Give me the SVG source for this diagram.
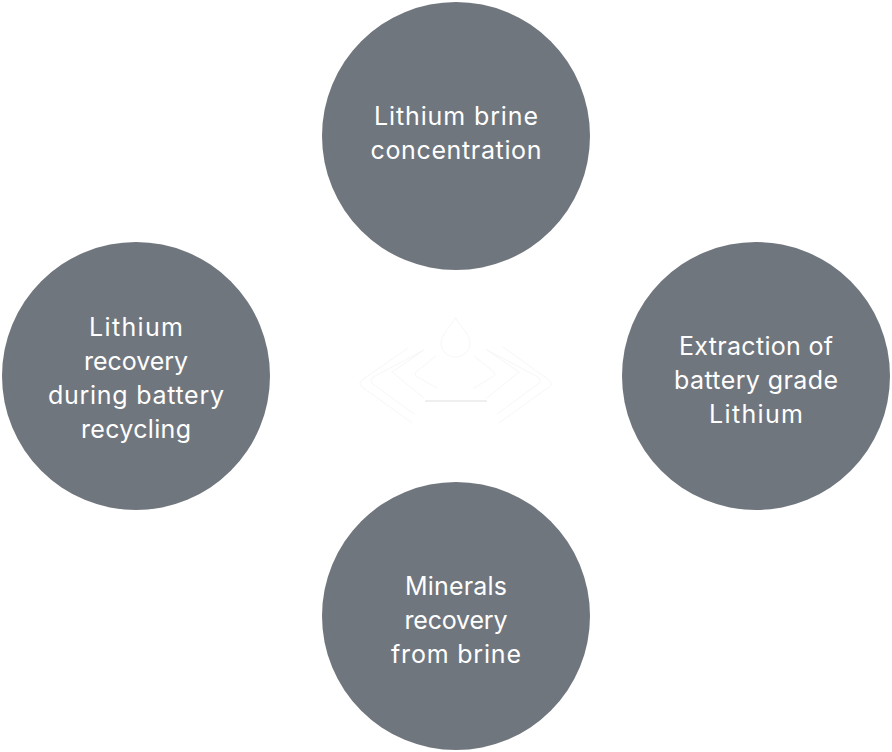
<svg xmlns="http://www.w3.org/2000/svg" width="892" height="752" viewBox="0 0 892 752">
<style>
.c{fill:#70767e}
.t{font-family:"Inter","Open Sans","Liberation Sans",sans-serif;font-size:25px;fill:#fff;text-anchor:middle}
.i{fill:none;stroke:#f4f4f4;stroke-width:.8;stroke-linejoin:round;stroke-linecap:round}
</style>
<rect width="892" height="752" fill="#fff"/>
<g id="node-top"><circle class="c" cx="456" cy="136" r="134"/><text class="t" x="456" y="124.500" textLength="164">Lithium brine</text><text class="t" x="456" y="158.500" textLength="171">concentration</text></g>
<g id="node-right"><circle class="c" cx="756" cy="376" r="134"/><text class="t" x="756" y="355" textLength="154">Extraction of</text><text class="t" x="756" y="389" textLength="164">battery grade</text><text class="t" x="756" y="423" textLength="94">Lithium</text></g>
<g id="node-bottom"><circle class="c" cx="456" cy="616" r="134"/><text class="t" x="456" y="595" textLength="102">Minerals</text><text class="t" x="456" y="629" textLength="103">recovery</text><text class="t" x="456" y="663" textLength="130">from brine</text></g>
<g id="node-left"><circle class="c" cx="136" cy="376" r="134"/><text class="t" x="136" y="336" textLength="94">Lithium</text><text class="t" x="136" y="370" textLength="104">recovery</text><text class="t" x="136" y="404" textLength="176">during battery</text><text class="t" x="136" y="438" textLength="110">recycling</text></g>
<g id="node-icon">
<path class="i" d="M455.500 318C450 327 441 335 441 343C441 351 448 357 455.500 357C463 357 470 351 470 343C470 335 461 327 455.500 318Z"/>
<path class="i" d="M408 348L362 380Q358 384 362 387L408 420L412 423M503 347L549 380Q553 384 549 387L503 420L499 423"/>
<path class="i" d="M424 350L373 377Q369 381 373 384L414 414M487 350L538 377Q542 381 538 384L497 414"/>
<path class="i" d="M392 372L424 398M519 372L487 398M436 356L416 372Q414 374 416 376L437 388M474 356L494 372Q496 374 494 376L474 388"/>
<path class="i" d="M424 350L392 372M487 350L519 372"/>
<path d="M425 401H487" fill="none" stroke="#dedede" stroke-width="1"/>
</g>
</svg>
